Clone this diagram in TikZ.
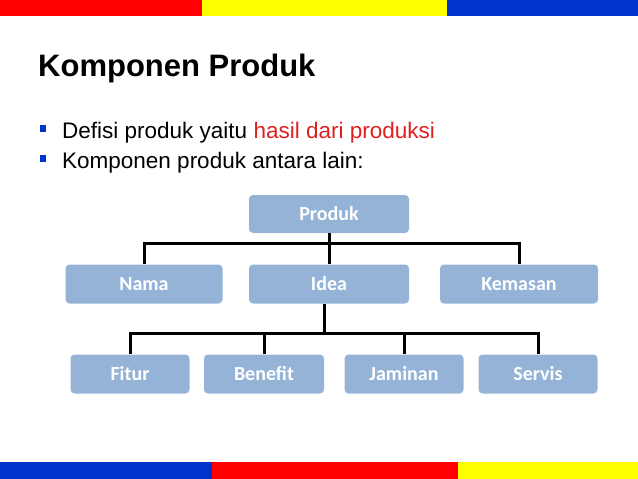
\documentclass[tikz,border=0pt]{standalone}
\usepackage{fontspec}
\setmainfont{Liberation Sans}
\newfontfamily\boxfont{Carlito}
\begin{document}
\begin{tikzpicture}[x=1pt,y=-1pt,
  bx/.style={fill=boxblue,rounded corners=4pt,text=white,font=\boxfont\bfseries\fontsize{20}{24}\selectfont,inner sep=0pt},
  ln/.style={line width=3pt}]
\definecolor{boxblue}{HTML}{95B3D7}
\definecolor{bred}{HTML}{FF0000}
\definecolor{byel}{HTML}{FFFF00}
\definecolor{bblue}{HTML}{0033CC}
\definecolor{tred}{HTML}{E0201E}
\useasboundingbox (0,0) rectangle (638,479);
\fill[bred] (0,0) rectangle (202,16);
\fill[byel] (202,0) rectangle (447,16);
\fill[bblue] (447,0) rectangle (638,16);
\fill[bblue] (0,462) rectangle (212,479);
\fill[bred] (212,462) rectangle (458,479);
\fill[byel] (458,462) rectangle (638,479);
\node[anchor=base west,font=\bfseries\fontsize{31}{36}\selectfont,inner sep=0pt] (t) at (38,76) {Komponen Produk};
\fill[bblue] (40,125) rectangle (46,132);
\fill[bblue] (40,155) rectangle (46,162);
\node[anchor=base west,font=\fontsize{22.5}{26}\selectfont,inner sep=0pt] (b1) at (62,138) {Defisi produk yaitu \textcolor{tred}{hasil dari produksi}};
\node[anchor=base west,font=\fontsize{22.5}{26}\selectfont,inner sep=0pt] (b2) at (62,168) {Komponen produk antara lain:};
\node[bx,minimum width=160pt,minimum height=38pt] (p) at (329,214) {Produk};
\node[bx,minimum width=157pt,minimum height=39pt] (n) at (144,284) {Nama};
\node[bx,minimum width=160pt,minimum height=39pt] (i) at (329,284) {Idea};
\node[bx,minimum width=158pt,minimum height=39pt] (k) at (519,284) {Kemasan};
\node[bx,minimum width=119pt,minimum height=39pt] (f) at (130,374) {Fitur};
\node[bx,minimum width=120pt,minimum height=39pt] (be) at (264,374) {Benefit};
\node[bx,minimum width=119pt,minimum height=39pt] (j) at (404,374) {Jaminan};
\node[bx,minimum width=119pt,minimum height=39pt] (s) at (538,374) {Servis};
\draw[ln] (p.south) -- (329,243);
\draw[ln] (n.north) |- (329,243) -| (k.north);
\draw[ln] (329,243) -- (i.north);
\draw[ln] ([xshift=-5pt]i.south) -- (324,333);
\draw[ln] (f.north) |- (324,333) -| (s.north);
\draw[ln] (be.north) -- (be.north |- 0,333);
\draw[ln] (j.north) -- (j.north |- 0,333);
\end{tikzpicture}
\end{document}
